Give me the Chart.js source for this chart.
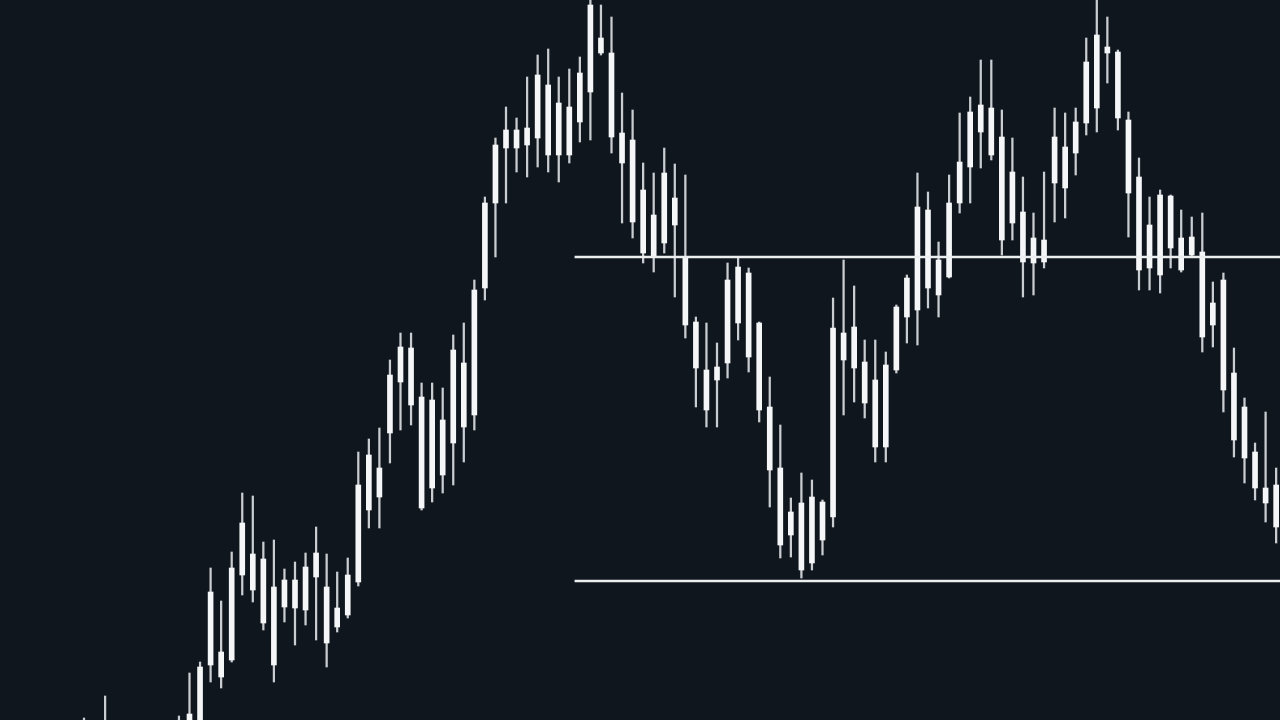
<!DOCTYPE html>
<html>
<head>
<meta charset="utf-8">
<script src="https://cdn.jsdelivr.net/npm/chart.js@4.4.1/dist/chart.umd.min.js"></script>
<style>
    html, body { margin: 0; padding: 0; background: #10161e; }
    #wrap { width: 1280px; height: 720px; }
</style>
</head>
<body>
<div id="wrap"><canvas id="graficoVelas"></canvas></div>
<script>
// ---- data (price units)

// candle index 0..113
const candleIndex = [];
for (let i = 0; i < 114; i++) candleIndex.push(i);

const highs = [
    2, -15, 24, -10, -20, -25, -15, -8, -5, 4,
    47, 58, 152, 119, 168, 227, 224, 178, 180, 151,
    158, 167, 193, 166, 148, 162, 268, 281, 292, 360,
    387, 387, 337, 337, 332, 385, 397, 440, 523, 582,
    613, 602, 643, 665, 671, 643, 651, 663, 722, 715,
    703, 627, 610, 557, 547, 572, 556, 545, 403, 397,
    377, 457, 462, 452, 398, 343, 295, 222, 247, 240,
    220, 422, 460, 434, 380, 380, 368, 415, 445, 547,
    528, 478, 545, 607, 623, 660, 660, 610, 582, 543,
    507, 548, 612, 607, 612, 682, 722, 703, 670, 608,
    562, 523, 530, 525, 510, 503, 507, 438, 447, 372,
    322, 277, 308, 252
];

const bodyTops = [
    -12, -25, -8, -20, -30, -35, -25, -15, -12, -10,
    6, 53, 128, 68, 152, 197, 166, 161, 133, 140,
    140, 153, 167, 133, 112, 145, 235, 265, 252, 345,
    373, 372, 323, 320, 300, 370, 357, 430, 517, 575,
    590, 590, 592, 645, 635, 617, 613, 647, 715, 682,
    667, 587, 580, 530, 505, 547, 522, 463, 398, 350,
    353, 440, 453, 447, 397, 313, 252, 208, 217, 223,
    218, 392, 387, 393, 358, 340, 355, 413, 442, 513,
    510, 460, 517, 558, 608, 615, 612, 583, 548, 508,
    482, 480, 583, 573, 598, 658, 685, 673, 668, 600,
    543, 495, 525, 524, 482, 483, 468, 417, 440, 347,
    313, 268, 232, 235
];

const bodyBottoms = [
    -35, -45, -40, -50, -60, -65, -60, -45, -40, -35,
    -40, -20, 55, 43, 60, 145, 130, 97, 55, 113,
    112, 110, 143, 77, 93, 105, 138, 210, 223, 287,
    338, 315, 212, 232, 245, 277, 293, 305, 432, 517,
    572, 572, 575, 582, 565, 565, 565, 598, 628, 667,
    583, 557, 498, 467, 463, 477, 495, 395, 352, 310,
    340, 357, 397, 363, 310, 250, 175, 185, 150, 157,
    180, 203, 360, 352, 317, 273, 273, 350, 403, 410,
    432, 425, 443, 517, 553, 588, 565, 480, 497, 458,
    457, 458, 537, 532, 567, 597, 612, 667, 602, 527,
    450, 452, 445, 472, 450, 465, 383, 395, 330, 280,
    262, 232, 217, 193
];

const lows = [
    -45, -55, -55, -60, -70, -80, -70, -55, -50, -45,
    -50, -35, 38, 32, 58, 125, 118, 90, 38, 98,
    75, 95, 80, 53, 88, 102, 134, 192, 192, 257,
    290, 295, 210, 218, 227, 235, 258, 290, 420, 463,
    517, 548, 543, 553, 548, 538, 557, 578, 580, 665,
    567, 497, 482, 457, 448, 467, 423, 382, 313, 293,
    293, 342, 380, 348, 298, 213, 162, 163, 142, 150,
    165, 193, 305, 318, 302, 258, 258, 347, 377, 375,
    412, 403, 442, 507, 517, 552, 560, 465, 480, 423,
    425, 452, 498, 502, 545, 585, 588, 637, 590, 483,
    430, 430, 427, 452, 448, 463, 368, 373, 308, 263,
    237, 220, 198, 177
];

// support / resistance levels drawn from candle 46.5 to the right edge
const levels = [463, 139];
const levelStart = 46.5;
const levelEnd = 115;

// ---- datasets

const wickData = candleIndex.map(i => ({ x: i, y: [lows[i], highs[i]] }));
const bodyData = candleIndex.map(i => ({ x: i, y: [bodyBottoms[i], bodyTops[i]] }));

const levelSets = levels.map(v => ({
    type: 'line',
    data: [{ x: levelStart, y: v }, { x: levelEnd, y: v }],
    borderColor: '#eceef0',
    borderWidth: 2.5,
    pointRadius: 0,
    order: 0
}));

const ctx = document.getElementById('graficoVelas').getContext('2d');

let graficoVelas = new Chart(ctx, {
    type: 'bar',
    data: {
        datasets: [
            {
                label: 'wick',
                data: wickData,
                backgroundColor: '#c9cdd1',
                barThickness: 1.6,
                grouped: false,
                order: 2
            },
            {
                label: 'body',
                data: bodyData,
                backgroundColor: '#f4f6f7',
                barThickness: 5,
                grouped: false,
                order: 1
            },
            ...levelSets
        ]
    },
    options: {
        responsive: true,
        maintainAspectRatio: false,
        animation: false,
        layout: { padding: 0 },
        plugins: {
            legend: { display: false },
            tooltip: { enabled: false }
        },
        scales: {
            x: {
                type: 'linear',
                display: false,
                min: -7.962, // first candle sits at ~84px
                max: 113.365,
                offset: false
            },
            y: {
                display: false,
                min: 0,
                max: 720
            }
        }
    }
});
</script>
</body>
</html>
